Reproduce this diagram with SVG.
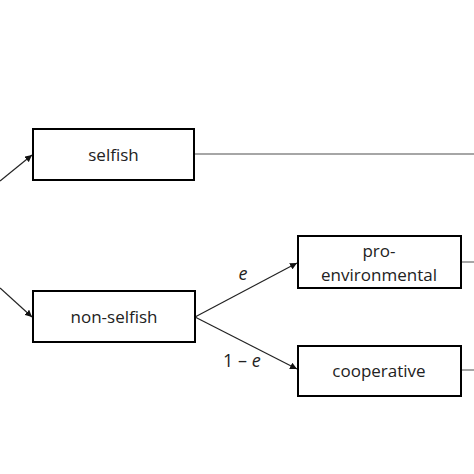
<svg xmlns="http://www.w3.org/2000/svg" width="474" height="474" viewBox="0 0 474 474">
<style>
.box{fill:#fff;stroke:#000;stroke-width:2}
.t{font-family:"Open Sans","Liberation Sans",sans-serif;font-size:17px;fill:#222;text-anchor:middle}
.arr{stroke:#222;stroke-width:1.2;fill:none;marker-end:url(#ah)}
.out{stroke:#888;stroke-width:1.5;fill:none}
.lab{font-family:"Open Sans","Liberation Sans",sans-serif;font-size:18px;fill:#222}
</style>
<defs>
<marker id="ah" viewBox="0 0 10 10" refX="10" refY="5" markerWidth="7" markerHeight="7" markerUnits="userSpaceOnUse" orient="auto">
<path d="M0,0 L10,5 L0,10 z" fill="#111"/>
</marker>
</defs>
<rect width="474" height="474" fill="#fff"/>
<g id="connectors">
<line class="arr" x1="0" y1="181" x2="32" y2="155"/>
<line class="arr" x1="0" y1="288" x2="32" y2="317"/>
<line class="arr" x1="195" y1="317" x2="297" y2="263"/>
<line class="arr" x1="195" y1="317" x2="297" y2="369"/>
<line class="out" x1="195" y1="154" x2="474" y2="154"/>
<line class="out" x1="461" y1="262" x2="474" y2="262"/>
<line class="out" x1="461" y1="370" x2="474" y2="370"/>
<text class="lab" x="243" y="280" text-anchor="middle" font-style="italic">e</text>
<text class="lab" x="223" y="367">1 – <tspan font-style="italic">e</tspan></text>
</g>
<g id="selfish">
<rect class="box" x="33" y="129" width="161" height="51"/>
<text class="t" x="113.5" y="161">selfish</text>
</g>
<g id="non-selfish">
<rect class="box" x="33" y="291" width="162" height="51"/>
<text class="t" x="114" y="323">non-selfish</text>
</g>
<g id="pro-environmental">
<rect class="box" x="298" y="236" width="163" height="52"/>
<text class="t" x="379" y="257">pro-</text>
<text class="t" x="379" y="281">environmental</text>
</g>
<g id="cooperative">
<rect class="box" x="298" y="346" width="163" height="50"/>
<text class="t" x="379" y="377">cooperative</text>
</g>
</svg>
